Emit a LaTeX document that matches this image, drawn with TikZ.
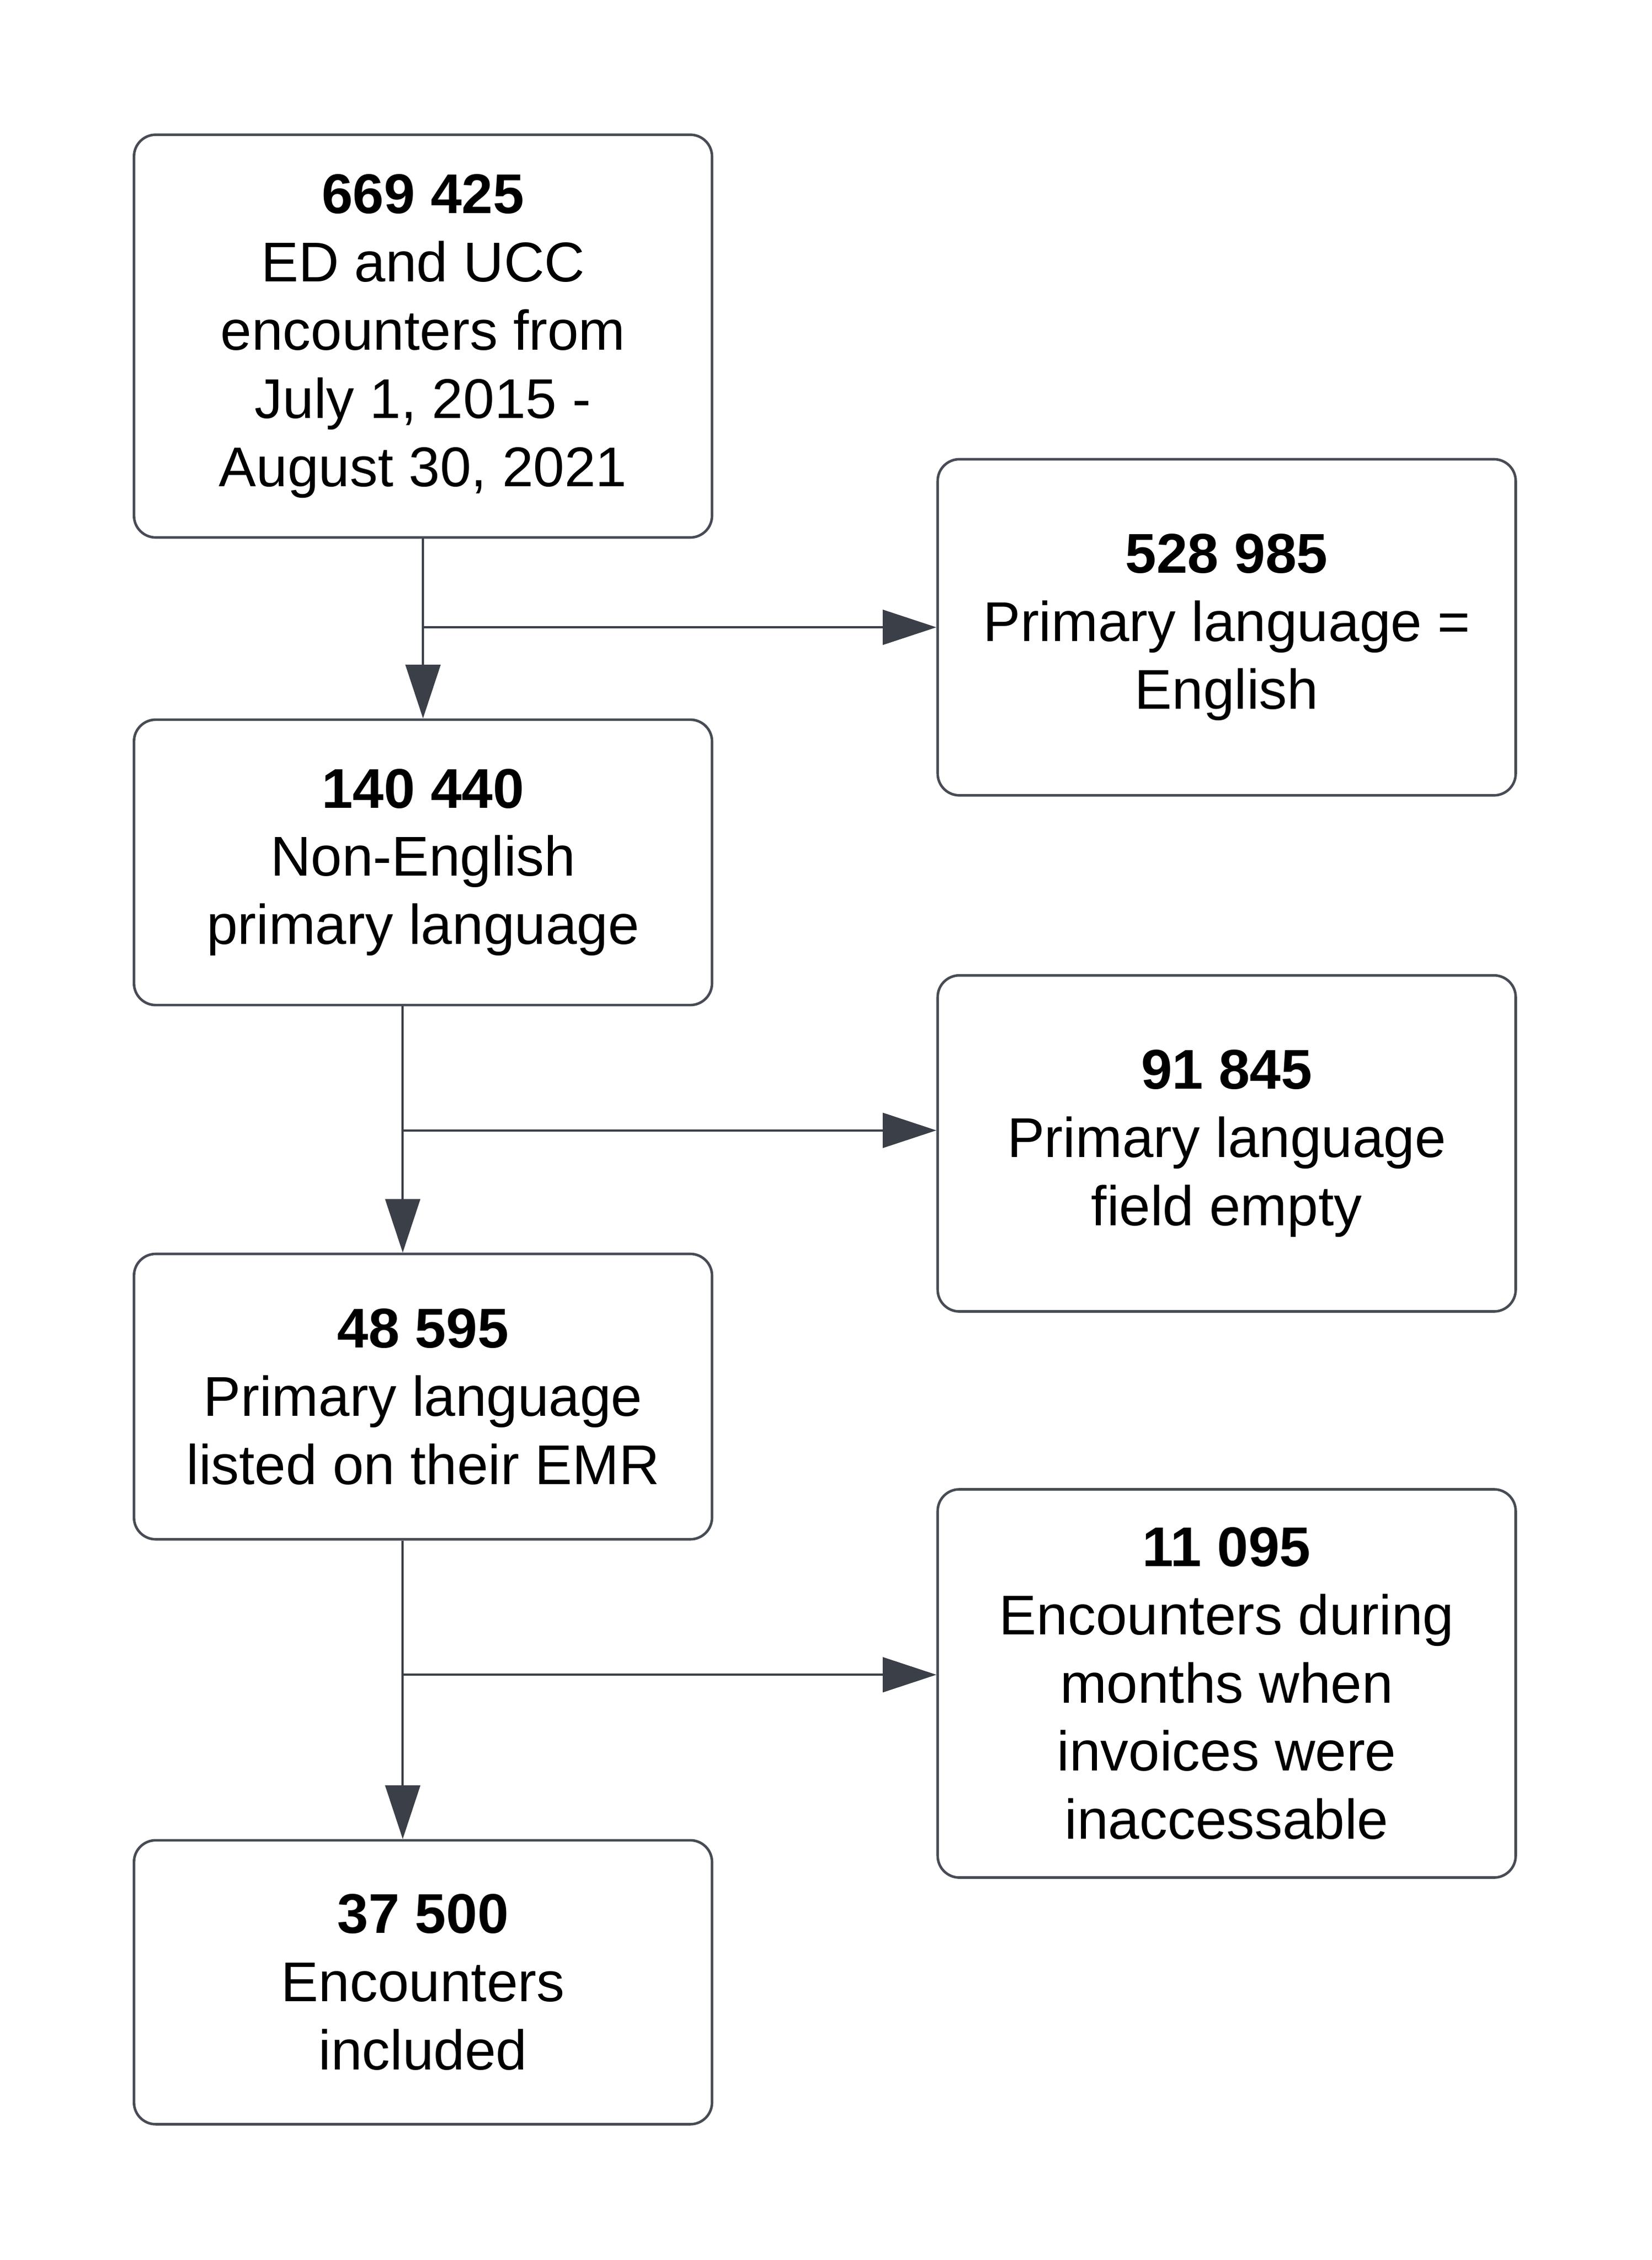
\documentclass[tikz,border=0pt]{standalone}
\usepackage{fontspec}
\setmainfont{Liberation Sans}
\usetikzlibrary{positioning, arrows.meta}
\definecolor{boxgray}{HTML}{474B54}
\definecolor{linegray}{HTML}{3B3F48}
\tikzset{count node/.style={rectangle,rounded corners=0.3cm,draw=boxgray,line width=1pt,fill=white,minimum width=7.98cm,inner sep=0pt,align=center,font=\fontsize{22}{26.8}\selectfont}}
\tikzset{flow line/.style={draw=linegray,line width=0.9pt,-{Triangle[length=0.74cm,width=0.48cm,fill=linegray]}}}

\begin{document}
\begin{tikzpicture}[scale=1]
            \path[fill=white,use as bounding box] (-5.84,4.64) rectangle (16.96,-26.56);

            \node[count node, minimum height=5.56cm] (A) at (0,0) {\textbf{669 425}\\ED and UCC\\encounters from\\July 1, 2015 -\\August 30, 2021};
            \node[count node, minimum height=3.94cm] (B) [below = 2.48cm of A] {\textbf{140 440}\\Non-English\\primary language};
            \node[count node, minimum height=3.94cm] (C) [below = 3.40cm of B] {\textbf{48 595}\\Primary language\\listed on their EMR};
            \node[count node, minimum height=3.92cm] (D) [below = 4.12cm of C] {\textbf{37 500}\\Encounters\\included};
            \node[count node, minimum height=4.64cm] (E) [right = 3.08cm of A, yshift=-4.02cm] {\textbf{528 985}\\Primary language =\\English};
            \node[count node, minimum height=4.64cm] (F) [right = 3.08cm of B, yshift=-3.88cm] {\textbf{91 845}\\Primary language\\field empty};
            \node[count node, minimum height=5.36cm] (G) [right = 3.08cm of C, yshift=-3.96cm] {\textbf{11 095}\\Encounters during\\months when\\invoices were\\inaccessable};

            \coordinate (B1) at ([xshift=-0.28cm]B.south);
            \coordinate (C1) at ([xshift=-0.28cm]C.south);
            \coordinate (F1) at ([yshift=0.18cm]F.west);
            \coordinate (G1) at ([yshift=0.12cm]G.west);

            \draw[flow line] (A) -- (B);
            \draw[flow line] (A.south |- E.west) -- (E.west);
            \draw[flow line] (B1) -- (B1 |- C.north);
            \draw[flow line] (B1 |- F1) -- (F1);
            \draw[flow line] (C1) -- (C1 |- D.north);
            \draw[flow line] (C1 |- G1) -- (G1);
        \end{tikzpicture}
\end{document}
